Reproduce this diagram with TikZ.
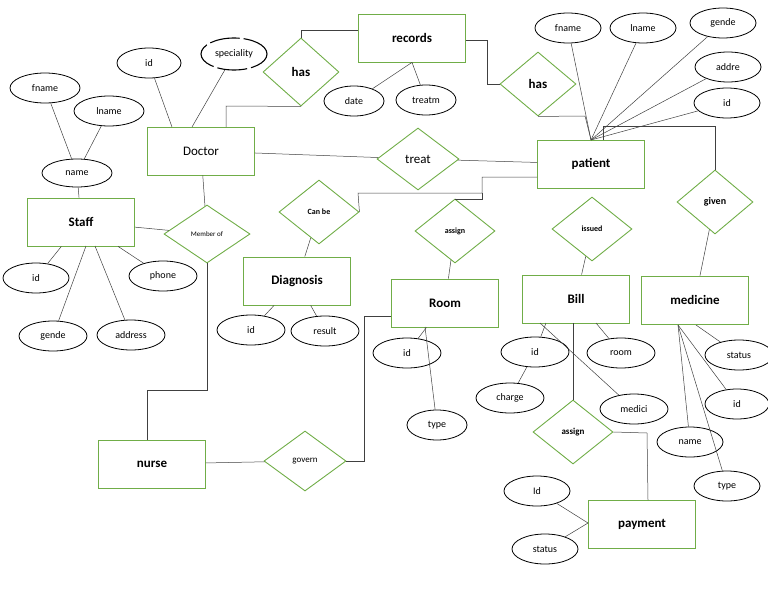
\documentclass[tikz,border=0pt]{standalone}
\usepackage{fontspec}
\setmainfont{Carlito}
\usetikzlibrary{shapes.geometric}
\definecolor{eg}{RGB}{112,173,71}
\begin{document}
\begin{tikzpicture}[x=1pt,y=-1pt,
 ent/.style={draw=eg,line width=0.9pt,minimum width=107pt,minimum height=48pt,inner sep=0pt,font=\bfseries\fontsize{13}{13}\selectfont},
 rel/.style={draw=eg,line width=0.9pt,diamond,aspect=1.2,inner sep=0pt},
 att/.style={draw,ellipse,line width=0.8pt,minimum width=70pt,minimum height=30pt,inner sep=0pt,font=\fontsize{10}{10}\selectfont},
 ln/.style={draw,line width=0.5pt,black!75}]
\useasboundingbox (0,0) rectangle (768,594);
% entities
\node[ent] (records) at (412,38) {records};
\node[ent,font=\fontsize{13}{13}\selectfont] (doctor) at (201,151) {Doctor};
\node[ent] (patient) at (591,164) {patient};
\node[ent] (staff) at (81,222) {Staff};
\node[ent] (diag) at (297,281) {Diagnosis};
\node[ent] (room) at (445,303) {Room};
\node[ent] (bill) at (576,299) {Bill};
\node[ent] (med) at (695,300) {medicine};
\node[ent] (nurse) at (152,464) {nurse};
\node[ent] (pay) at (642,524) {payment};
% relationships
\node[rel,minimum width=76pt,minimum height=68pt,font=\bfseries\fontsize{13}{13}\selectfont] (has1) at (301,72) {has};
\node[rel,minimum width=76pt,minimum height=64pt,font=\bfseries\fontsize{13}{13}\selectfont] (has2) at (538,84) {has};
\node[rel,minimum width=82pt,minimum height=62pt,font=\fontsize{13}{13}\selectfont] (treat) at (418,159) {treat};
\node[rel,minimum width=80pt,minimum height=64pt,font=\bfseries\fontsize{8}{8}\selectfont] (canbe) at (319,212) {Can be};
\node[rel,minimum width=86pt,minimum height=58pt,font=\fontsize{7}{7}\selectfont] (member) at (207,234) {Member of};
\node[rel,minimum width=80pt,minimum height=64pt,font=\bfseries\fontsize{8}{8}\selectfont] (assign1) at (455,231) {assign};
\node[rel,minimum width=80pt,minimum height=64pt,font=\bfseries\fontsize{8}{8}\selectfont] (issued) at (592,229) {issued};
\node[rel,minimum width=76pt,minimum height=64pt,font=\bfseries\fontsize{10}{10}\selectfont] (given) at (715,202) {given};
\node[rel,minimum width=82pt,minimum height=60pt,font=\fontsize{9}{9}\selectfont] (govern) at (305,461) {govern};
\node[rel,minimum width=80pt,minimum height=64pt,font=\bfseries\fontsize{9}{9}\selectfont] (assign2) at (573,432) {assign};
% attributes
\node[att] (sfname) at (45,88) {fname};
\node[att] (slname) at (109,111) {lname};
\node[att,minimum height=28pt] (sname) at (77,173) {name};
\node[att,minimum width=66pt,minimum height=32pt,line width=1.1pt,dashed,dash pattern=on 30pt off 4pt] (spec) at (234,54) {speciality};
\node[att,minimum width=64pt] (did) at (149,63) {id};
\node[att,minimum width=60pt] (date) at (354,101) {date};
\node[att,minimum width=60pt] (treatm) at (426,100) {treatm};
\node[att,minimum width=66pt] (pfname) at (568,28) {fname};
\node[att,minimum width=66pt] (plname) at (643,28) {lname};
\node[att,minimum width=66pt] (pgende) at (723,23) {gende};
\node[att,minimum width=66pt] (paddre) at (728,67) {addre};
\node[att,minimum width=66pt] (pid) at (727,103) {id};
\node[att,minimum width=66pt] (sid) at (36,218+60) {id};
\node[att,minimum width=68pt] (phone) at (163,276) {phone};
\node[att,minimum width=68pt] (sgende) at (53,336) {gende};
\node[att,minimum width=68pt] (saddr) at (131,335) {address};
\node[att,minimum width=68pt] (diid) at (251,330) {id};
\node[att,minimum width=68pt] (result) at (325,331) {result};
\node[att,minimum width=68pt] (rid) at (407,353) {id};
\node[att,minimum width=60pt] (rtype) at (437,425) {type};
\node[att,minimum width=68pt] (bid) at (535,352) {id};
\node[att,minimum width=68pt] (broom) at (621,353) {room};
\node[att,minimum width=68pt] (charge) at (510,398) {charge};
\node[att,minimum width=68pt] (medici) at (634,409) {medici};
\node[att,minimum width=68pt] (mstatus) at (739,355) {status};
\node[att,minimum width=64pt] (mid) at (737,404) {id};
\node[att,minimum width=66pt] (mname) at (690,442) {name};
\node[att,minimum width=66pt] (mtype) at (727,486) {type};
\node[att,minimum width=66pt] (payid) at (537,491) {Id};
\node[att,minimum width=66pt] (paystat) at (545,549) {status};
% junction coordinates
\coordinate (pc) at (591,140);
\coordinate (mc) at (678,325);
% connectors
\draw[ln] (sfname) -- (sname); \draw[ln] (slname) -- (sname); \draw[ln] (sname) -- (staff);
\draw[ln] (staff) -- (member); \draw[ln] (member) -- (doctor);
\draw[ln] (member.south) -- (207,390) -- (147,390) -- (147,440);
\draw[ln] (did) -- (172,127); \draw[ln] (spec) -- (192,127);
\draw[ln] (has1.south) -- (226,106) -- (226,127);
\draw[ln] (has1.north) -- (301,30) -- (records.west |- 0,30);
\draw[ln] (records.east |- 0,40) -- (487,40) -- (487,84) -- (has2.west);
\draw[ln] (has2.south) -- (585,116) -- (pc);
\draw[ln] (date) -- (records.south); \draw[ln] (treatm) -- (records.south);
\draw[ln] (doctor) -- (treat); \draw[ln] (treat) -- (patient);
\foreach \a in {pfname,plname,pgende,paddre,pid} \draw[ln] (\a) -- (pc);
\draw[ln] (603,140) -- (603,126) -- (715,126) -- (given.north);
\draw[ln] (given) -- (med);
\draw[ln] (canbe.east) -- (358,193) -- (482,193) -- (482,177) -- (patient.west |- 0,177);
\draw[ln] (assign1.north) -- (455,199) -- (482,199) -- (482,193);
\draw[ln] (canbe) -- (diag);
\draw[ln] (diid) -- (diag); \draw[ln] (result) -- (diag);
\draw[ln] (assign1) -- (room);
\draw[ln] (issued) -- (bill);
\draw[ln] (rid) -- (room); \draw[ln] (rtype) -- (425,327);
\draw[ln] (room.west |- 0,316) -- (364,316) -- (364,461) -- (govern.east);
\draw[ln] (govern) -- (nurse);
\draw[ln] (bid) -- (546,323); \draw[ln] (medici) -- (540,323);
\draw[ln] (broom) -- (596,323); \draw[ln] (charge) -- (bid);
\draw[ln] (573,323) -- (assign2.north);
\draw[ln] (assign2.east) -- (647,433) -- (648,500);
\draw[ln] (payid) -- (588,523); \draw[ln] (paystat) -- (588,523);
\draw[ln] (mstatus) -- (696,325);
\foreach \a in {mid,mname,mtype} \draw[ln] (\a) -- (mc);
\draw[ln] (sid) -- (staff); \draw[ln] (phone) -- (staff);
\draw[ln] (sgende) -- (86,246); \draw[ln] (saddr) -- (95,246);
\end{tikzpicture}
\end{document}
